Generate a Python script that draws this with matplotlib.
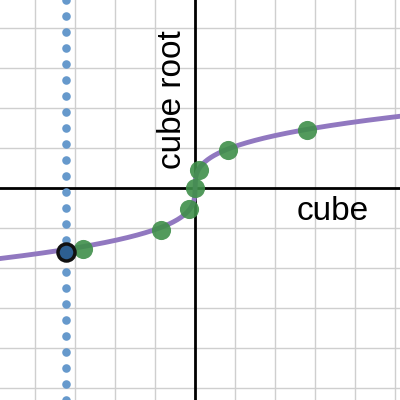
import numpy as np
import matplotlib
matplotlib.use("Agg")
import matplotlib.pyplot as plt

pts_x = [-2.8, -0.85, -0.15, 0.0, 0.1, 0.825, 2.8]
pts_y = [-1.52, -1.05, -0.53, 0.0, 0.46, 0.96, 1.45]
line_x = -3.225
black_pt = (-3.225, -1.6)
dots_y = [4.7 - 0.4 * i for i in range(26)]

fig = plt.figure(figsize=(4, 4), dpi=100)
ax = fig.add_axes([0, 0, 1, 1])
xmin, xmax, ymin, ymax = -4.875, 5.125, -5.3, 4.7
ax.set_xlim(xmin, xmax); ax.set_ylim(ymin, ymax)
for g in range(-4, 6):
    ax.axvline(g, color="#cfcfcf", lw=1, zorder=0)
for g in range(-5, 5):
    ax.axhline(g, color="#cfcfcf", lw=1, zorder=0)
ax.axvline(0, color="black", lw=2, zorder=1)
ax.axhline(0, color="black", lw=2, zorder=1)
xs = np.linspace(xmin, xmax, 500)
ax.plot(xs, 1.04 * np.cbrt(xs), color="#9178c0", lw=3.5, zorder=2)
ax.scatter([line_x] * len(dots_y), dots_y, s=38, color="#6699cc", zorder=3, linewidths=0)
ax.scatter(pts_x, pts_y, s=190, color="#3f8f4a", alpha=0.9, zorder=4, linewidths=0)
ax.scatter([black_pt[0]], [black_pt[1]], s=150, color="#2d5f91", edgecolors="#111111", linewidths=2.5, zorder=5)
ax.text(-0.575, 2.2, "cube root", rotation=90, fontsize=24, ha="center", va="center", family="Liberation Sans")
ax.text(3.45, -0.575, "cube", fontsize=24, ha="center", va="center", family="Liberation Sans")
ax.set_xticks([]); ax.set_yticks([])
for s in ax.spines.values():
    s.set_visible(False)
fig.savefig("out.png", dpi=100)
